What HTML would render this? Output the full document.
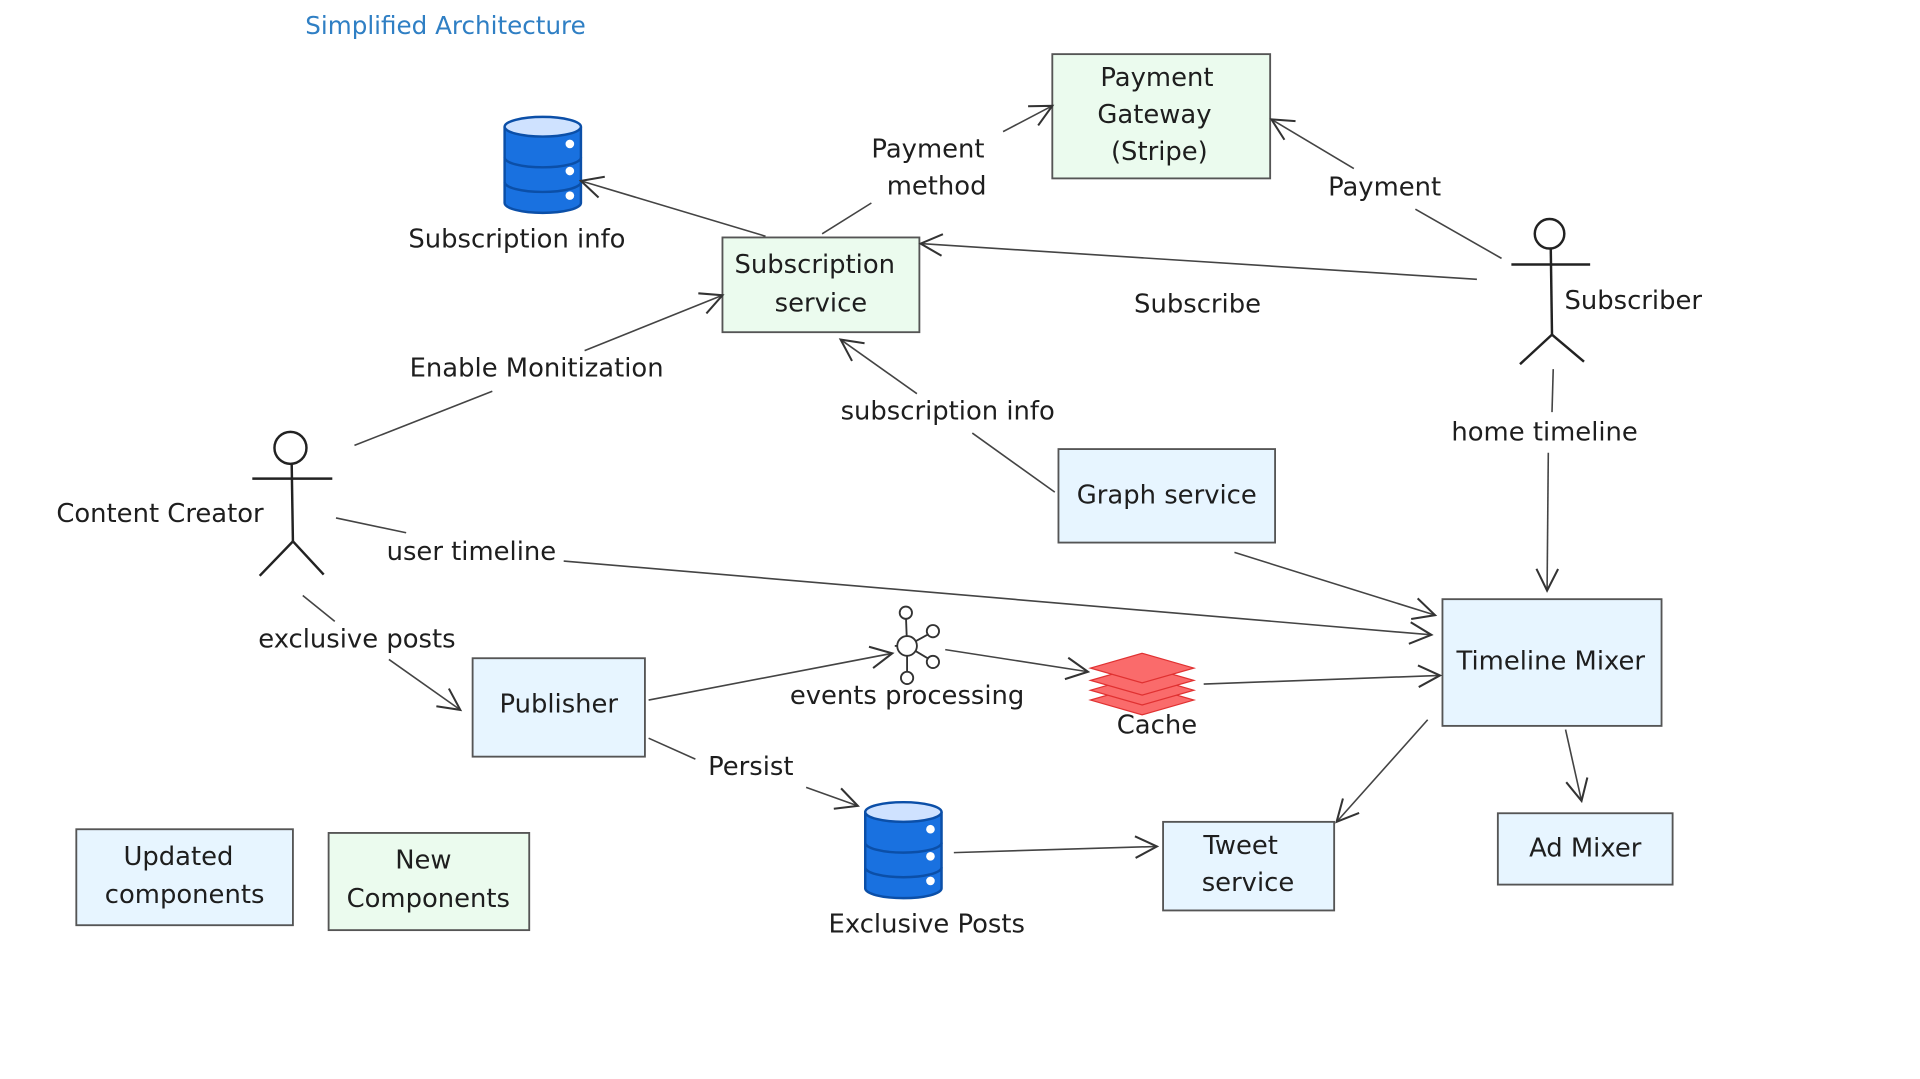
<!DOCTYPE html>
<html><head><meta charset="utf-8"><style>
html,body{margin:0;padding:0;background:#fff;width:1920px;height:1079px;overflow:hidden}
svg{display:block}
text{font-family:"DejaVu Sans","Liberation Sans",sans-serif;font-size:21px;fill:#1e1e1e;text-anchor:middle;dominant-baseline:middle}
</style></head><body>
<svg width="1920" height="1079" viewBox="0 0 1560 877" preserveAspectRatio="none" xmlns="http://www.w3.org/2000/svg">
<defs>
<marker id="a" viewBox="0 0 20 20" refX="18" refY="10" markerWidth="22" markerHeight="22" markerUnits="userSpaceOnUse" orient="auto">
<path d="M2,2 L18,10 L2,18" fill="none" stroke="#333" stroke-width="1.5"/></marker>
<g id="db">
<path d="M0,8 L0,70 A31,8 0 0 0 62,70 L62,8" fill="#1971e0" stroke="#0b4fa8" stroke-width="2"/>
<ellipse cx="31" cy="8" rx="31" ry="8" fill="#cfe2ff" stroke="#0b4fa8" stroke-width="2"/>
<path d="M0,33 A31,8 0 0 0 62,33 M0,53 A31,8 0 0 0 62,53" fill="none" stroke="#0b4fa8" stroke-width="2"/>
<circle cx="53" cy="22" r="3.5" fill="#fff"/><circle cx="53" cy="44" r="3.5" fill="#fff"/><circle cx="53" cy="64" r="3.5" fill="#fff"/>
</g>
</defs>
<text x="362" y="22" style="fill:#2f7fc4;font-size:20px">Simplified Architecture</text>

<g stroke="#555" stroke-width="1.5" fill="#ebfbee">
<rect x="855" y="44" width="177" height="101"/>
<rect x="587" y="193" width="160" height="77"/>
<rect x="267" y="677" width="163" height="79"/>
</g>
<g stroke="#555" stroke-width="1.5" fill="#e7f5ff">
<rect x="860" y="365" width="176" height="76"/>
<rect x="1172" y="487" width="178" height="103"/>
<rect x="384" y="535" width="140" height="80"/>
<rect x="945" y="668" width="139" height="72"/>
<rect x="1217" y="661" width="142" height="58"/>
<rect x="62" y="674" width="176" height="78"/>
</g>

<use href="#db" x="410" y="95"/>
<use href="#db" x="703" y="652"/>

<!-- cache -->
<g fill="#fa6b6b" stroke="#e03131" stroke-width="1">
<path d="M928,557 L970,569 L928,581 L886,569Z"/>
<path d="M928,549 L970,561 L928,573 L886,561Z"/>
<path d="M928,541 L970,553 L928,565 L886,553Z"/>
<path d="M928,531 L970,543 L928,555 L886,543Z"/>
</g>
<!-- events icon -->
<g stroke="#333" stroke-width="1.5" fill="#fff">
<line x1="737" y1="525" x2="736" y2="499"/><line x1="737" y1="525" x2="757" y2="514"/><line x1="737" y1="525" x2="757" y2="537"/><line x1="737" y1="525" x2="737" y2="550"/><line x1="737" y1="525" x2="727" y2="525"/>
<circle cx="737" cy="525" r="8"/><circle cx="736" cy="498" r="5"/><circle cx="758" cy="513" r="5"/><circle cx="758" cy="538" r="5"/><circle cx="737" cy="551" r="5"/>
</g>

<!-- stick figures -->
<g stroke="#222" stroke-width="2" fill="none">
<circle cx="1259" cy="190" r="12"/><line x1="1228" y1="215" x2="1292" y2="215"/><line x1="1260" y1="202" x2="1261" y2="272"/><line x1="1261" y1="272" x2="1235" y2="296"/><line x1="1261" y1="272" x2="1287" y2="294"/>
<circle cx="236" cy="364" r="13"/><line x1="205" y1="389" x2="270" y2="389"/><line x1="237" y1="377" x2="238" y2="440"/><line x1="238" y1="440" x2="211" y2="468"/><line x1="238" y1="440" x2="263" y2="467"/>
</g>

<g stroke="#444" stroke-width="1.3" fill="none">
<line x1="622" y1="192" x2="472" y2="147" marker-end="url(#a)"/>
<line x1="668" y1="190" x2="708" y2="165"/>
<line x1="815" y1="107" x2="855" y2="86" marker-end="url(#a)"/>
<line x1="1220" y1="210" x2="1150" y2="170"/>
<line x1="1100" y1="137" x2="1033" y2="97" marker-end="url(#a)"/>
<line x1="1200" y1="227" x2="748" y2="198" marker-end="url(#a)"/>
<line x1="288" y1="362" x2="400" y2="318"/>
<line x1="475" y1="285" x2="587" y2="240" marker-end="url(#a)"/>
<line x1="857" y1="400" x2="790" y2="352"/>
<line x1="745" y1="320" x2="683" y2="276" marker-end="url(#a)"/>
<line x1="1262" y1="300" x2="1261" y2="335"/>
<line x1="1258" y1="368" x2="1257" y2="480" marker-end="url(#a)"/>
<line x1="1003" y1="449" x2="1166" y2="500" marker-end="url(#a)"/>
<line x1="273" y1="421" x2="330" y2="433"/>
<line x1="458" y1="456" x2="1163" y2="516" marker-end="url(#a)"/>
<line x1="246" y1="484" x2="272" y2="505"/>
<line x1="316" y1="536" x2="374" y2="577" marker-end="url(#a)"/>
<line x1="527" y1="569" x2="725" y2="531" marker-end="url(#a)"/>
<line x1="768" y1="528" x2="884" y2="546" marker-end="url(#a)"/>
<line x1="978" y1="556" x2="1170" y2="549" marker-end="url(#a)"/>
<line x1="527" y1="600" x2="565" y2="617"/>
<line x1="655" y1="640" x2="697" y2="655" marker-end="url(#a)"/>
<line x1="775" y1="693" x2="940" y2="688" marker-end="url(#a)"/>
<line x1="1160" y1="585" x2="1086" y2="668" marker-end="url(#a)"/>
<line x1="1272" y1="593" x2="1285" y2="651" marker-end="url(#a)"/>
</g>

<text x="940" y="64">Payment</text><text x="938" y="94">Gateway</text><text x="942" y="124">(Stripe)</text>
<text x="420" y="195">Subscription info</text>
<text x="662" y="216">Subscription</text><text x="667" y="247">service</text>
<text x="754" y="122">Payment</text><text x="761" y="152">method</text>
<text x="1125" y="153">Payment</text>
<text x="973" y="248">Subscribe</text>
<text x="1327" y="245">Subscriber</text>
<text x="436" y="300">Enable Monitization</text>
<text x="770" y="335">subscription info</text>
<text x="1255" y="352">home timeline</text>
<text x="948" y="403">Graph service</text>
<text x="130" y="418">Content Creator</text>
<text x="383" y="449">user timeline</text>
<text x="290" y="520">exclusive posts</text>
<text x="1260" y="538">Timeline Mixer</text>
<text x="454" y="573">Publisher</text>
<text x="737" y="566">events processing</text>
<text x="940" y="590">Cache</text>
<text x="610" y="624">Persist</text>
<text x="1008" y="688">Tweet</text><text x="1014" y="718">service</text>
<text x="1288" y="690">Ad Mixer</text>
<text x="145" y="697">Updated</text><text x="150" y="728">components</text>
<text x="344" y="700">New</text><text x="348" y="731">Components</text>
<text x="753" y="752">Exclusive Posts</text>
</svg>
</body></html>
